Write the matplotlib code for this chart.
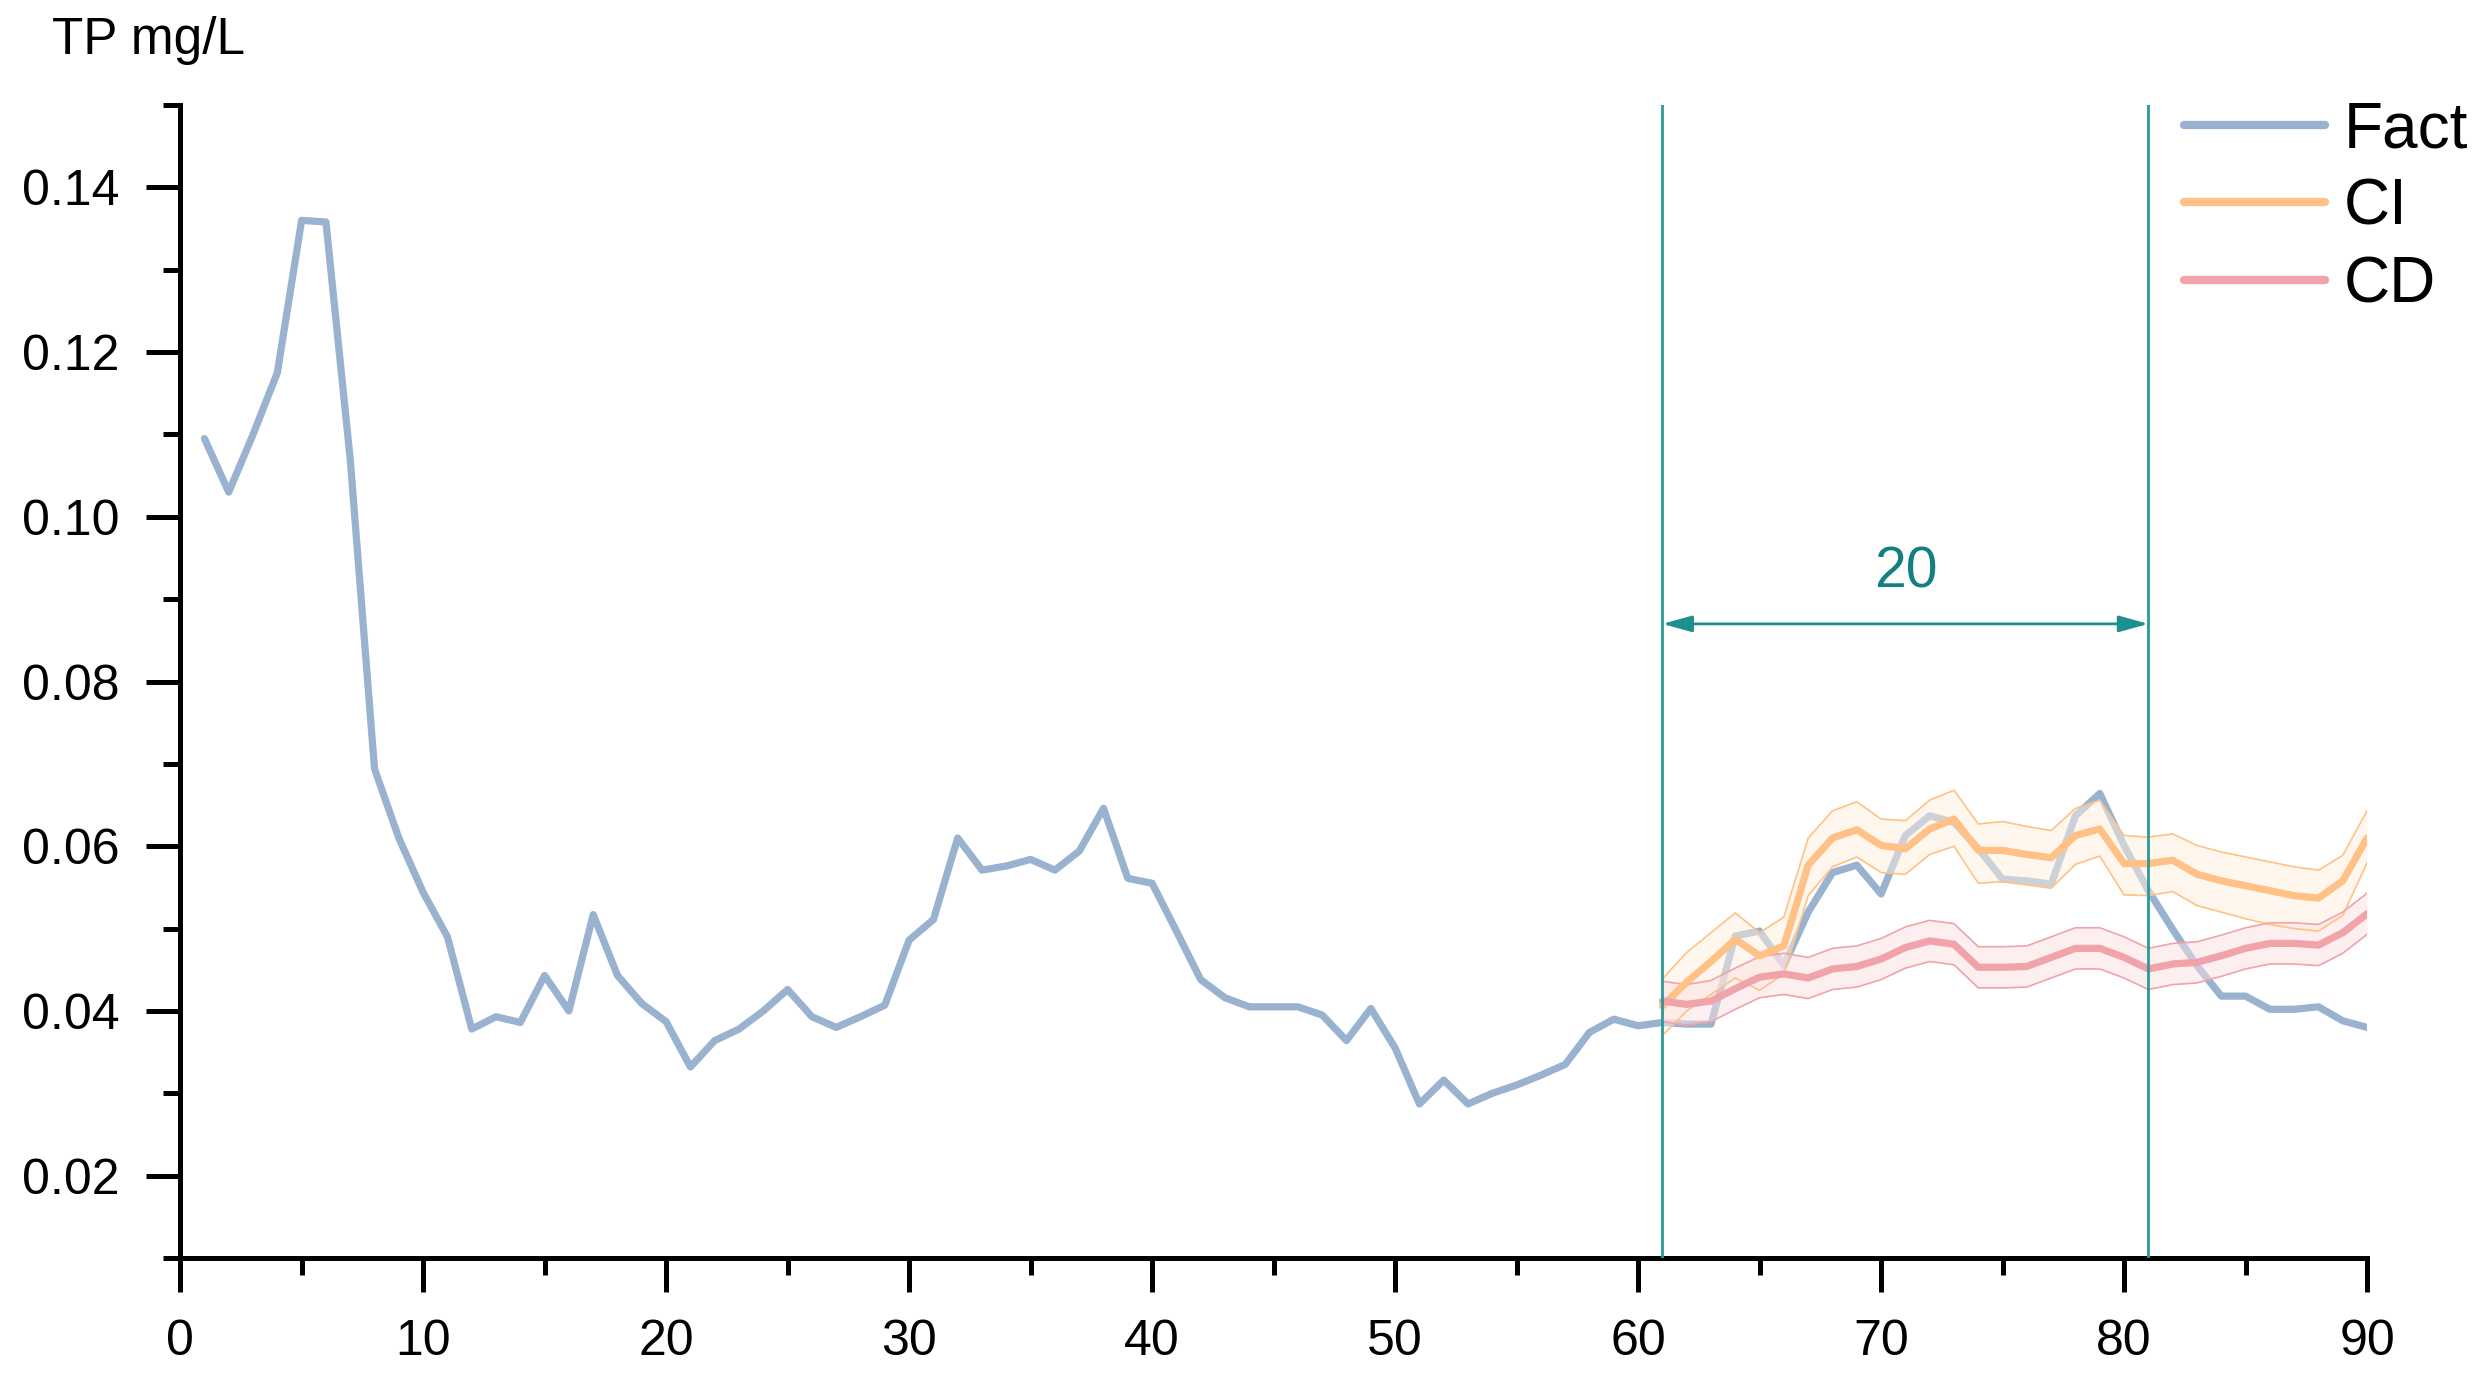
import matplotlib
matplotlib.use("Agg")
import matplotlib.pyplot as plt
from matplotlib.ticker import MultipleLocator, FormatStrFormatter

plt.rcParams['font.family'] = ['Liberation Sans', 'DejaVu Sans']

# ---- data ----
fact_x = list(range(1, 91))
fact_y = [0.1095, 0.103, 0.110, 0.1175, 0.136, 0.1358, 0.107, 0.0694, 0.061, 0.0544,
          0.049, 0.0378, 0.0393, 0.0386, 0.0443, 0.040, 0.0517, 0.0443, 0.0409, 0.0387,
          0.0332, 0.0364, 0.0378, 0.040, 0.0426, 0.0393, 0.038, 0.0393, 0.0407, 0.0486,
          0.0511, 0.061, 0.0571, 0.0576, 0.0584, 0.0571, 0.0594, 0.0646, 0.0561, 0.0555,
          0.0497, 0.0438, 0.0416, 0.0405, 0.0405, 0.0405, 0.0395, 0.0364, 0.0403, 0.0355,
          0.0287, 0.0316, 0.0287, 0.030, 0.031, 0.0322, 0.0335, 0.0374, 0.039, 0.0382,
          0.0386, 0.0384, 0.0384, 0.0491, 0.0497, 0.0455, 0.052, 0.0568, 0.0577, 0.0542,
          0.0613, 0.0637, 0.0629, 0.0597, 0.056, 0.0558, 0.0554, 0.0637, 0.0664, 0.0601,
          0.0546, 0.0499, 0.0455, 0.0418, 0.0418, 0.0402, 0.0402, 0.0405, 0.0388, 0.038]

fc_x = list(range(61, 91))
ci_mean = [0.0406, 0.0435, 0.046, 0.0487, 0.0467, 0.0479, 0.0577, 0.061, 0.062, 0.0601,
           0.0597, 0.0621, 0.0633, 0.0595, 0.0595, 0.059, 0.0586, 0.0613, 0.0621, 0.0579,
           0.0579, 0.0583, 0.0566, 0.0558, 0.0552, 0.0546, 0.054, 0.0537, 0.0558, 0.061]
ci_upper = [0.0439, 0.0471, 0.0495, 0.0519, 0.0495, 0.0514, 0.061, 0.0643, 0.0654, 0.0633,
            0.0631, 0.0656, 0.0668, 0.0627, 0.063, 0.0624, 0.0619, 0.0646, 0.0656, 0.0613,
            0.0611, 0.0615, 0.0601, 0.0593, 0.0587, 0.0581, 0.0575, 0.0571, 0.0589, 0.0643]
ci_lower = [0.037, 0.040, 0.042, 0.044, 0.0425, 0.0445, 0.054, 0.0575, 0.0587, 0.0568,
            0.0566, 0.059, 0.060, 0.0555, 0.0557, 0.0553, 0.0549, 0.0578, 0.0588, 0.0541,
            0.054, 0.0545, 0.0528, 0.052, 0.0512, 0.0505, 0.050, 0.0497, 0.0516, 0.058]
cd_mean = [0.0412, 0.0408, 0.0412, 0.0427, 0.0441, 0.0445, 0.044, 0.0451, 0.0454, 0.0463,
           0.0477, 0.0485, 0.0481, 0.0453, 0.0453, 0.0454, 0.0465, 0.0476, 0.0476, 0.0465,
           0.0451, 0.0457, 0.0459, 0.0467, 0.0476, 0.0482, 0.0482, 0.048, 0.0495, 0.0518]
cd_upper = [0.0436, 0.0432, 0.0437, 0.0452, 0.0466, 0.047, 0.0465, 0.0476, 0.0479, 0.0488,
            0.0502, 0.051, 0.0506, 0.0478, 0.0478, 0.0479, 0.049, 0.0501, 0.0501, 0.049,
            0.0476, 0.0482, 0.0484, 0.0492, 0.0501, 0.0507, 0.0507, 0.0505, 0.052, 0.0543]
cd_lower = [0.0387, 0.0383, 0.0387, 0.0402, 0.0416, 0.042, 0.0415, 0.0426, 0.0429, 0.0438,
            0.0452, 0.046, 0.0456, 0.0428, 0.0428, 0.0429, 0.044, 0.0451, 0.0451, 0.044,
            0.0426, 0.0432, 0.0434, 0.0442, 0.0451, 0.0457, 0.0457, 0.0455, 0.047, 0.0493]

window_start, window_end = 61, 81
window_label = "20"
arrow_y = 0.087
label_y = 0.0932

# ---- styles ----
c_fact = '#98b2d0'
c_ci = '#ffc185'
c_cd = '#f0a3a8'
c_teal = '#2b9a96'

fig = plt.figure(figsize=(12.44, 6.985), dpi=200)
ax = fig.add_axes([0.0724, 0.0995, 0.879, 0.8253])

ax.plot(fact_x, fact_y, color=c_fact, lw=2.6, zorder=2, label='Fact',
        solid_capstyle='round', solid_joinstyle='round')

ax.fill_between(fc_x, ci_lower, ci_upper, color='#fff0df', alpha=0.5, lw=0, zorder=3)
ax.plot(fc_x, ci_upper, color=c_ci, lw=0.6, zorder=4)
ax.plot(fc_x, ci_lower, color=c_ci, lw=0.6, zorder=4)
ax.plot(fc_x, ci_mean, color=c_ci, lw=2.6, zorder=5, label='CI',
        solid_capstyle='round', solid_joinstyle='round')

ax.fill_between(fc_x, cd_lower, cd_upper, color='#fce0e3', alpha=0.5, lw=0, zorder=3)
ax.plot(fc_x, cd_upper, color=c_cd, lw=0.6, zorder=4)
ax.plot(fc_x, cd_lower, color=c_cd, lw=0.6, zorder=4)
ax.plot(fc_x, cd_mean, color=c_cd, lw=2.6, zorder=5, label='CD',
        solid_capstyle='round', solid_joinstyle='round')

ax.axvline(window_start, color=c_teal, lw=1.0, zorder=6)
ax.axvline(window_end, color=c_teal, lw=1.0, zorder=6)
ax.annotate('', xy=(window_start, arrow_y), xytext=(window_end, arrow_y),
            arrowprops=dict(arrowstyle='<|-|>,head_length=0.9,head_width=0.25',
                            color='#1e8f8f', lw=1.0, shrinkA=0, shrinkB=0), zorder=7)
ax.text((window_start + window_end) / 2, label_y, window_label, color='#137f80',
        fontsize=20.5, ha='center', va='center')

ax.set_xlim(0, 90)
ax.set_ylim(0.01, 0.15)
ax.xaxis.set_major_locator(MultipleLocator(10))
ax.xaxis.set_minor_locator(MultipleLocator(5))
ax.yaxis.set_major_locator(MultipleLocator(0.02))
ax.yaxis.set_minor_locator(MultipleLocator(0.01))
ax.yaxis.set_major_formatter(FormatStrFormatter('%.2f'))
ax.set_yticks([0.02, 0.04, 0.06, 0.08, 0.10, 0.12, 0.14])

for s in ['top', 'right']:
    ax.spines[s].set_visible(False)
for s in ['left', 'bottom']:
    ax.spines[s].set_linewidth(1.8)
ax.tick_params(which='major', direction='out', length=12.4, width=1.8, labelsize=18, pad=9.5)
ax.tick_params(which='minor', direction='out', length=6, width=1.8)

fig.text(0.021, 0.971, 'TP mg/L', fontsize=18.5, ha='left', va='center')

leg = ax.legend(loc='upper left', bbox_to_anchor=(0.8778, 0.928), bbox_transform=fig.transFigure,
                frameon=False, fontsize=23, handlelength=2.2, handletextpad=0.3,
                labelspacing=0.27, borderpad=0, borderaxespad=0)
for h in leg.get_lines():
    h.set_linewidth(3.0)
    h.set_solid_capstyle('round')

fig.savefig('out.png', dpi=200)
